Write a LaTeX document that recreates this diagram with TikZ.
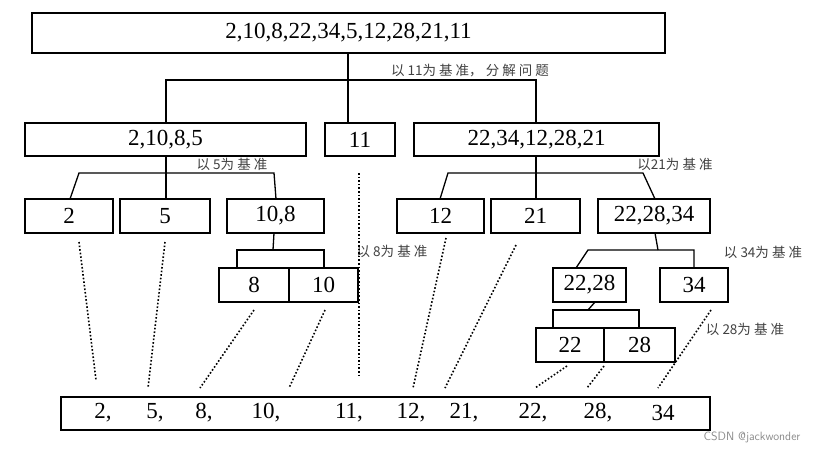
\documentclass[tikz,border=0pt]{standalone}
\usepackage{fontspec}
\setmainfont{Liberation Serif}
\newfontfamily\cjk{Noto Sans CJK SC}
\begin{document}
\begin{tikzpicture}[x=1pt,y=-1pt,
 thickbox/.style={draw,line width=2.6pt,inner sep=0},
 thinbox/.style={draw,line width=1.1pt,inner sep=0},
 lbl/.style={font=\cjk\fontsize{13.5}{13.5}\selectfont,text=black!75},
 num/.style={font=\fontsize{23}{23}\selectfont},
 ln/.style={line width=1.3pt},
 dot/.style={line width=1.6pt,dotted}]
\useasboundingbox (0,0) rectangle (835,450);
\newcommand{\bx}[6]{\node[#1,minimum width=#4-#3,minimum height=#6-#5,num] (#2) at ({(#3+#4)/2},{(#5+#6)/2}) {};}
\bx{thickbox}{top}{32}{665}{13}{53}\node[num] at (top) {2,10,8,22,34,5,12,28,21,11};
\bx{thickbox}{L}{25}{306}{123}{156}\node[num] at (L) {2,10,8,5};
\bx{thickbox}{M}{325}{395}{123}{156}\node[num] at (M) {11};
\bx{thickbox}{R}{414}{659}{123}{156}\node[num] at (R) {22,34,12,28,21};
\bx{thinbox}{a2}{25}{113}{199}{233}\node[num] at (a2) {2};
\bx{thinbox}{a5}{120}{210}{199}{233}\node[num] at (a5) {5};
\bx{thinbox}{a108}{227}{324}{199}{233}\node[num] at (a108) {10,8};
\bx{thinbox}{a12}{397}{484}{199}{233}\node[num] at (a12) {12};
\bx{thinbox}{a21}{491}{580}{199}{233}\node[num] at (a21) {21};
\bx{thinbox}{a222834}{598}{710}{199}{233}\node[num] at (a222834) {22,28,34};
\bx{thinbox}{b8}{219}{289}{268}{302}\node[num] at (b8) {8};
\bx{thinbox}{b10}{289}{358}{268}{302}\node[num] at (b10) {10};
\bx{thinbox}{b2228}{553}{626}{268}{302}\node[num] at (b2228) {22,28};
\bx{thinbox}{b34}{660}{728}{268}{302}\node[num] at (b34) {34};
\bx{thinbox}{c22}{536}{604}{328}{362}\node[num] at (c22) {22};
\bx{thinbox}{c28}{604}{675}{328}{362}\node[num] at (c28) {28};
\bx{thickbox}{bot}{61}{710}{397}{430}
\foreach \x/\t in {103/{2,},155/{5,},204/{8,},266/{10,},349/{11,},411/{12,},464/{21,},533/{22,},598/{28,},663/{34}}
  \node[num] at (\x,413) {\t};
% labels
\node[lbl] at (470,71) {以 11为 基 准， 分 解 问 题};
\node[lbl] at (232,164) {以 5为 基 准};
\node[lbl] at (675,164) {以21为 基 准};
\node[lbl] at (392,251) {以 8为 基 准};
\node[lbl] at (763,252) {以 34为 基 准};
\node[lbl] at (745,329) {以 28为 基 准};
\node[font=\sffamily\fontsize{12}{12}\selectfont,text=black!45] at (752,437) {CSDN @jackwonder};
% tree lines
\draw[ln] (348,53) -- (348,123);
\draw[ln] (166,123) -- (166,80) -- (536,80) -- (536,123);
\draw[ln] (166,156) -- (166,199);
\draw[ln] (70,199) -- (79,173) -- (274,173) -- (276,199);
\draw[ln] (536,156) -- (536,199);
\draw[ln] (440,199) -- (448,173) -- (643,173) -- (655,199);
\draw[ln] (274,233) -- (273,250);
\draw[ln] (237,268) -- (237,250) -- (324,250) -- (324,268);
\draw[ln] (655,233) -- (658,250);
\draw[ln] (576,268) -- (588,250) -- (694,250) -- (694,268);
\draw[ln] (595,302) -- (588,310);
\draw[ln] (553,328) -- (553,310) -- (639,310) -- (639,328);
% dotted
\draw[dot] (79,242) -- (96,380);
\draw[dot] (165,242) -- (148,388);
\draw[dot] (254,310) -- (200,388);
\draw[dot] (325,310) -- (289,388);
\draw[dot] (359,173) -- (359,378);
\draw[dot] (446,238) -- (413,388);
\draw[dot] (516,245) -- (445,388);
\draw[dot] (567,366) -- (535,388);
\draw[dot] (604,366) -- (587,388);
\draw[dot] (711,310) -- (658,388);
\end{tikzpicture}
\end{document}
